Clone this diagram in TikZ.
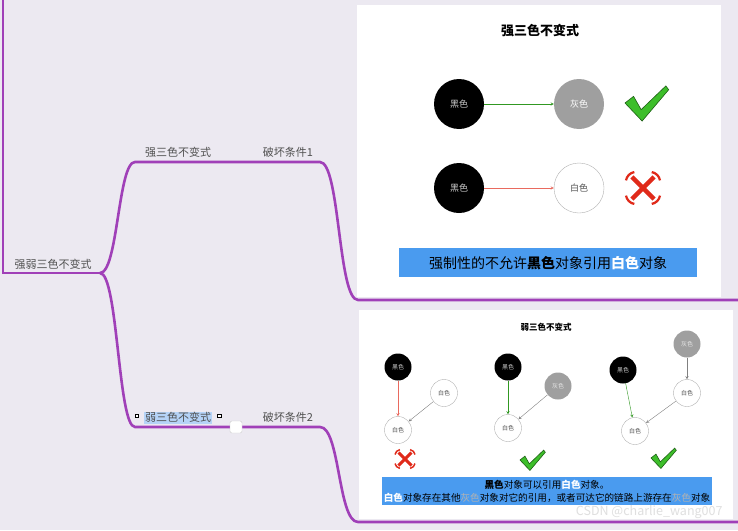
\documentclass[tikz,border=0pt]{standalone}
\usepackage{fontspec}
\setmainfont{Noto Sans CJK SC}
\definecolor{bg}{HTML}{ECE9F1}
\definecolor{br}{HTML}{A040B8}
\definecolor{lbl}{HTML}{505050}
\definecolor{ban}{HTML}{4A9BEF}
\definecolor{chk}{HTML}{3DBE2A}
\definecolor{crs}{HTML}{E02A1A}
\definecolor{sel}{HTML}{B5D3F7}
\tikzset{
 branch/.style={br,line width=2.6pt},
 lab/.style={text=lbl,font=\fontsize{11}{13}\selectfont,anchor=south},
 panel/.style={fill=white,draw=none},
 bigblack/.style={circle,fill=black,minimum size=50pt,text=white!80!black,font=\fontsize{9}{10}\selectfont,inner sep=0},
 biggray/.style={circle,fill=gray!75,minimum size=50pt,text=white,font=\fontsize{9}{10}\selectfont,inner sep=0},
 bigwhite/.style={circle,draw=gray!60,fill=white,minimum size=50pt,text=lbl,font=\fontsize{9}{10}\selectfont,inner sep=0},
 sb/.style={circle,fill=black,minimum size=27pt,text=white!80!black,font=\fontsize{6}{7}\selectfont,inner sep=0},
 sg/.style={circle,fill=gray!75,minimum size=27pt,text=white!90!black,font=\fontsize{6}{7}\selectfont,inner sep=0},
 sw/.style={circle,draw=gray!60,fill=white,minimum size=27pt,text=lbl,font=\fontsize{6}{7}\selectfont,inner sep=0},
 okarr/.style={->,>=stealth,draw=chk!80!black},
 badarr/.style={->,>=stealth,draw=crs!70},
 grayarr/.style={->,>=stealth,draw=gray},
}
\newcommand{\chkmark}[2]{\fill[chk,draw=chk!50!black,line width=0.6pt,shift={(#1)},scale=#2] (-1,0) -- (-0.55,-0.35) -- (-0.15,0.35) -- (1.15,-0.9) -- (1.3,-0.7) -- (-0.1,0.95) -- cycle;}
\newcommand{\crsmark}[3]{\begin{scope}[shift={(#1)},scale=#2,crs]
\draw[line width=#3] (-0.65,-0.65)--(0.65,0.65) (-0.65,0.65)--(0.65,-0.65);
\draw[line width=0.5*#3] (-1,-0.45) arc(190:260:0.6) (1,-0.45) arc(-10:-80:0.6) (-1,0.45) arc(170:100:0.6) (1,0.45) arc(10:80:0.6);
\end{scope}}
\begin{document}
\begin{tikzpicture}[x=1pt,y=-1pt]
\fill[bg] (0,0) rectangle (738,530);
\useasboundingbox (0,0) rectangle (738,530);
\draw[branch] (3,0) -- (3,273) -- (100,273);
\draw[branch] (100,273) .. controls (118,273) and (118,162) .. (135,162) -- (320,162) .. controls (340,162) and (338,300) .. (358,300) -- (738,300);
\draw[branch] (100,273) .. controls (118,273) and (118,427) .. (135,427) -- (320,427) .. controls (340,427) and (338,522) .. (358,522) -- (738,522);
\node[lab] (root) at (53,273) {强弱三色不变式};
\node[lab] (s) at (178,161) {强三色不变式};
\node[lab] (s1) at (288,161) {破坏条件1};
\node[fill=sel,inner sep=1pt,text=lbl,font=\fontsize{11}{13}\selectfont,anchor=south] (w) at (178,424) {弱三色不变式};
\draw[fill=white,draw=black,line width=0.5pt] (135,414) rectangle (138.5,417.5) (217.5,414) rectangle (221,417.5);
\draw[draw=gray!40,fill=white,rounded corners=1.5pt] (230,421) rectangle (242,433);
\node[lab] (w1) at (288,426) {破坏条件2};
\fill[panel] (357,5) rectangle (721,297);
\node[font=\bfseries\fontsize{13}{15}\selectfont] (t1) at (540,31) {强三色不变式};
\node[bigblack] (a1) at (459,104) {黑色};
\node[biggray] (a2) at (579,104) {灰色};
\node[bigblack] (b1) at (459,188) {黑色};
\node[bigwhite] (b2) at (579,188) {白色};
\draw[okarr] (a1) -- (a2);
\draw[badarr] (b1) -- (b2);
\chkmark{644,103}{19}
\crsmark{643,188}{17}{4.5pt}
\fill[ban] (399,248) rectangle (697,277);
\node[font=\fontsize{14}{16}\selectfont] (bt) at (548,263) {强制性的不允许\textbf{黑色}对象引用\textcolor{white}{\textbf{白色}}对象};
\fill[panel] (359,310) rectangle (733,519);
\node[font=\bfseries\fontsize{8.5}{10}\selectfont] (t2) at (546,327) {弱三色不变式};
\node[sb] (c1) at (398,367) {黑色};
\node[sw] (c2) at (444,393) {白色};
\node[sw] (c3) at (398,430) {白色};
\draw[badarr] (c1) -- (c3);
\draw[grayarr] (c2) -- (c3);
\crsmark{405,459}{10}{3pt}
\node[sb] (d1) at (508,367) {黑色};
\node[sg] (d2) at (558,386) {灰色};
\node[sw] (d3) at (508,428) {白色};
\draw[okarr] (d1) -- (d3);
\draw[grayarr] (d2) -- (d3);
\chkmark{531,460}{11}
\node[sb] (e1) at (623,370) {黑色};
\node[sg] (e2) at (687,344) {灰色};
\node[sw] (e3) at (687,393) {白色};
\node[sw] (e4) at (635,431) {白色};
\draw[okarr] (e1) -- (e4);
\draw[grayarr] (e2) -- (e3);
\draw[grayarr] (e3) -- (e4);
\chkmark{662,458}{11}
\fill[ban] (382,477) rectangle (712,505);
\node[font=\fontsize{9.6}{13}\selectfont,align=center] (bt2) at (547,491) {\textbf{黑色}对象可以引用\textcolor{white}{\textbf{白色}}对象。\\\textcolor{white}{\textbf{白色}}对象存在其他\textcolor{gray!60}{灰色}对象对它的引用，或者可达它的链路上游存在\textcolor{gray!60}{灰色}对象};
\node[text=gray!25,font=\fontsize{12.5}{14}\selectfont,anchor=south east] (wm) at (726,522) {CSDN @charlie\_wang007};
\end{tikzpicture}
\end{document}
